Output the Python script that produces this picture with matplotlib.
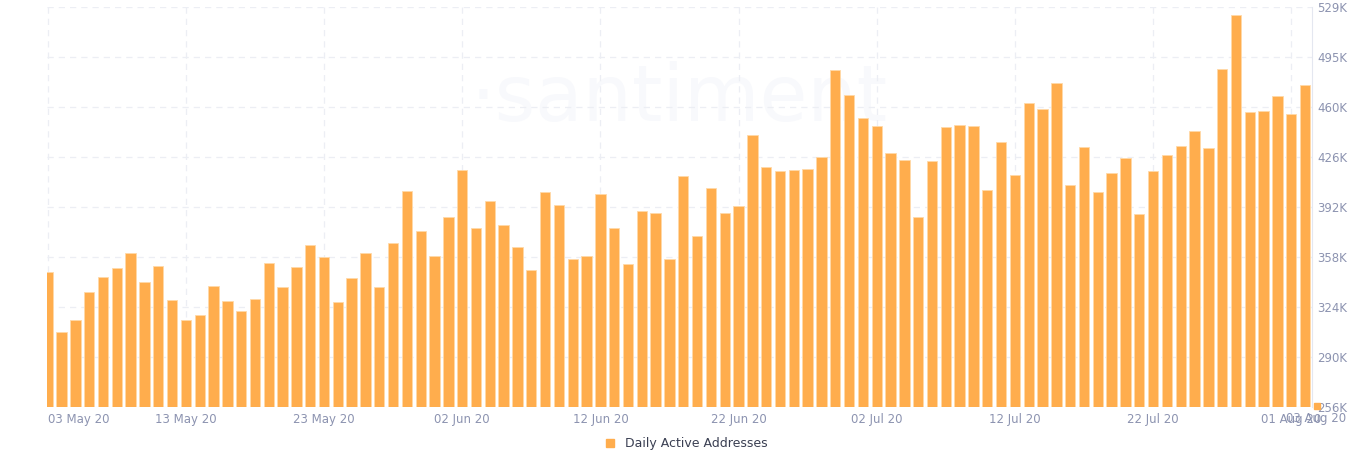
import matplotlib
matplotlib.use("Agg")
import matplotlib.pyplot as plt
import matplotlib.dates as mdates
import numpy as np
import pandas as pd

start_date = "2020-05-03"
values_k = [348.3, 307.4, 315.4, 334.3, 344.7, 351.1, 360.9, 341.3, 352.0, 329.2,
            315.2, 318.6, 338.4, 328.3, 321.3, 329.9, 354.0, 338.1, 351.3, 366.3,
            358.2, 327.5, 344.0, 361.3, 338.1, 367.6, 403.6, 375.9, 359.3, 385.4,
            417.5, 378.2, 396.8, 380.5, 365.4, 349.3, 402.5, 393.9, 356.8, 359.3,
            401.4, 378.0, 353.6, 389.5, 388.2, 357.0, 413.5, 373.0, 405.3, 388.6,
            393.2, 441.4, 419.6, 416.9, 417.5, 418.2, 426.4, 486.2, 468.9, 453.2,
            447.5, 429.4, 424.4, 385.7, 423.9, 447.1, 448.3, 448.0, 403.9, 437.1,
            414.3, 463.5, 459.4, 476.9, 407.7, 433.5, 402.5, 415.7, 425.7, 387.7,
            416.9, 428.0, 434.3, 444.2, 433.0, 486.9, 523.5, 457.1, 457.8, 468.0,
            455.8, 475.5]
y_ticks = [256, 290.125, 324.25, 358.375, 392.5, 426.625, 460.75, 494.875, 529]
y_labels = ["256K", "290K", "324K", "358K", "392K", "426K", "460K", "495K", "529K"]
x_tick_dates = ["2020-05-03", "2020-05-13", "2020-05-23", "2020-06-02", "2020-06-12",
                "2020-06-22", "2020-07-02", "2020-07-12", "2020-07-22", "2020-08-01"]
series_name = "Daily Active Addresses"

dates = pd.date_range(start_date, periods=len(values_k), freq="D")
orange = "#FFAD4D"
tick_col = "#8C93B0"
grid_col = "#ECEEF4"

fig = plt.figure(figsize=(13.66, 4.62), dpi=100)
ax = fig.add_axes([47/1366, 1 - 407/462, (1312-47)/1366, 400/462])
x = mdates.date2num(dates)
ax.bar(x, values_k, width=0.75, color=orange, edgecolor="#FFD9A8", linewidth=0.6, zorder=2)
ax.set_xlim(x[0] - 0.05, x[-1] + 0.5)
ax.set_ylim(256, 529)

ax.yaxis.tick_right()
ax.set_yticks(y_ticks)
ax.set_yticklabels(y_labels)
xt = list(mdates.date2num(pd.to_datetime(x_tick_dates)))
ax.set_xticks(xt)
ax.set_xticklabels([d.strftime("%d %b %y") for d in pd.to_datetime(x_tick_dates)])
labs = ax.get_xticklabels()
labs[0].set_ha("left")
ax.tick_params(axis="both", length=0, colors=tick_col, labelsize=8.5)
ax.tick_params(axis="y", pad=4)
ax.tick_params(axis="x", pad=4)
ax.text(1.003, -0.012, "03 Aug 20", transform=ax.transAxes, ha="center", va="top",
        color=tick_col, fontsize=8.5)
ax.grid(True, color=grid_col, linestyle=(0, (5, 4)), linewidth=0.9, zorder=0)
for s in ["top", "left", "bottom"]:
    ax.spines[s].set_visible(False)
ax.spines["right"].set_color("#E4E7F0")

ax.text(0.5, 0.77, "·santiment", transform=ax.transAxes, ha="center", va="center",
        fontsize=56, color="#F8F9FC", zorder=1, family="DejaVu Sans")
ax.plot([1.004], [0.003], marker="s", ms=4, color=orange, transform=ax.transAxes, clip_on=False)

from matplotlib.lines import Line2D
h = Line2D([], [], marker="s", linestyle="", color=orange, markersize=6)
fig.legend([h], [series_name], loc="center", bbox_to_anchor=(0.5, 1 - 444/462),
           frameon=False, fontsize=9, handletextpad=0.2, labelcolor="#3A3F52")
fig.savefig("out.png", dpi=100, facecolor="white")
